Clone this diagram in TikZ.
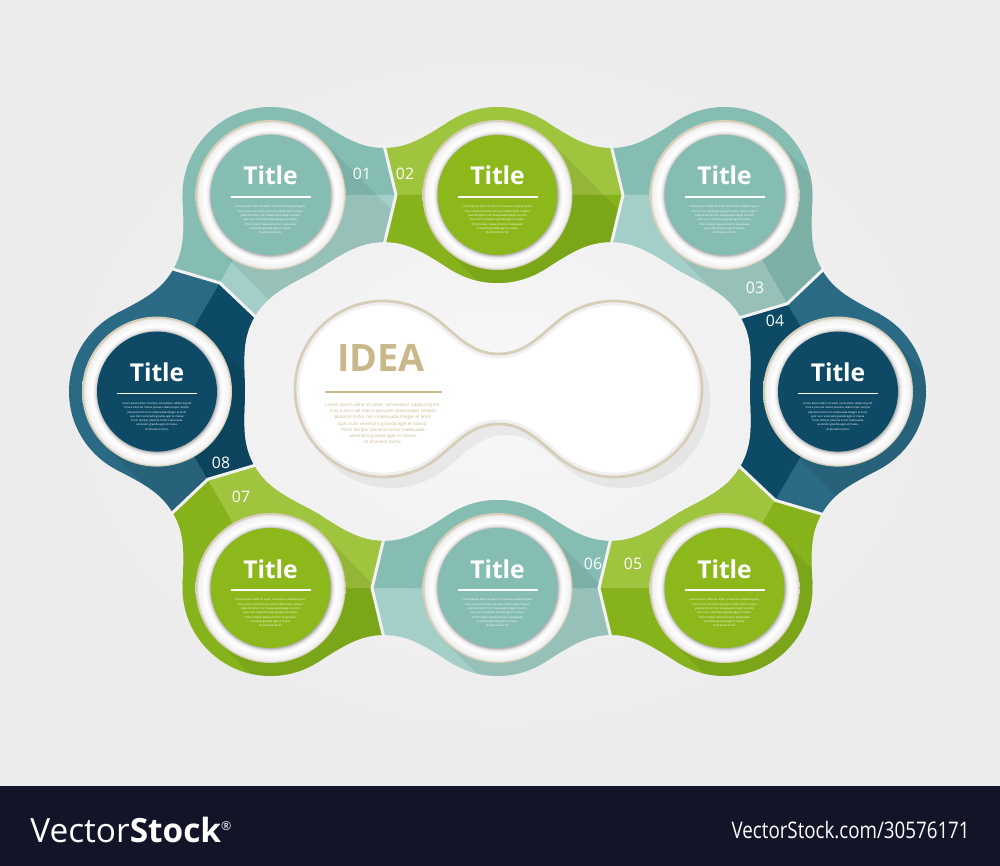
\documentclass[tikz,border=0pt]{standalone}
\usepackage{fontspec}
\setmainfont{Open Sans}
\usetikzlibrary{calc}
\definecolor{tealA}{HTML}{86BDB3}
\definecolor{tealB}{HTML}{A3CFC8}
\definecolor{greenA}{HTML}{9FC43D}
\definecolor{greenB}{HTML}{86B31B}
\definecolor{diskgreen}{HTML}{8CB81B}
\definecolor{blueA}{HTML}{2B6A84}
\definecolor{blueB}{HTML}{0D4A66}
\definecolor{diskblue}{HTML}{0E4A66}
\definecolor{rimcol}{HTML}{D6CEB8}
\definecolor{ideacol}{HTML}{C8B88A}
\definecolor{barcol}{HTML}{131428}
\definecolor{bgcol}{HTML}{F2F2F2}
\pgfdeclareradialshading{ringshade}{\pgfpoint{0bp}{0bp}}{color(0bp)=(black!30); color(20bp)=(black!30); color(20.8bp)=(black!8); color(21.8bp)=(white); color(24.2bp)=(white!94!black); color(24.6bp)=(rimcol); color(25bp)=(rimcol); color(50bp)=(rimcol)}
\newcommand\tipshape{(0,0) -- (46.6,-74.6) .. controls (72,-58.7) and (88.5,-47) .. (113.5,-47) -- (125.5,0) -- (113.5,47) .. controls (88.5,47) and (72,58.7) .. (46.6,74.6) -- cycle}
\newcommand\notchshape{(0,0) -- (-46.6,-74.6) .. controls (-72,-58.7) and (-88.5,-47) .. (-113.5,-47) -- (-101.5,0) -- (-113.5,47) .. controls (-88.5,47) and (-72,58.7) .. (-46.6,74.6) -- cycle}
\newcommand\blobfill[4]{%
  \fill[#4, shift={(#1)}] (0,0) circle (88);
  \fill[#4, shift={(#1)}, rotate=-#2] \tipshape;
  \fill[#4, shift={(#1)}, rotate=-#3] \notchshape;}
\newcommand\ideashape{(439.6,321.6) .. controls (458.7,337.7) and (473.5,354) .. (498.5,354) .. controls (523.5,354) and (538.3,337.7) .. (557.4,321.6) arc[start angle=230, end angle=490, radius=88] .. controls (538.3,440.3) and (523.5,424) .. (498.5,424) .. controls (473.5,424) and (458.7,440.3) .. (439.6,456.4) arc[start angle=50, end angle=310, radius=88] -- cycle}
\newcommand\loremtext{Lorem ipsum dolor sit amet, consectetur adipiscing elit.\\ Cras a risus vel metus posuere ullamcorper tempor\\ placerat tortor non malesuada.Integer et enim\\ quis nunc venenatis gravida eget et massa.\\ Proin tempor placerat tortor malesuada\\ venenatis gravida eget et massa.\\ Ut pharetra tortor.}
\tikzset{
  gapline/.style={draw=bgcol, line width=1.7pt, line join=miter},
  titletext/.style={text=white, font=\fontsize{14}{16}\selectfont\bfseries},
  bodytext/.style={text=white, align=center, inner sep=0pt, font=\fontsize{1.55}{2.45}\selectfont},
  numlabel/.style={text=white, font=\fontsize{9}{10}\selectfont},
}
\begin{document}
\begin{tikzpicture}[x=0.2mm, y=-0.2mm, line join=round]
\useasboundingbox (0,0) rectangle (1000,866);
\shade[inner color=white!97!black, outer color=black!8] (0,0) rectangle (1000,786);
\coordinate (c1) at (270.5,195);
\coordinate (c2) at (497.5,195);
\coordinate (c3) at (724.5,195);
\coordinate (c4) at (838,391.6);
\coordinate (c5) at (724.5,588);
\coordinate (c6) at (497.5,588);
\coordinate (c7) at (270.5,588);
\coordinate (c8) at (157,391.6);
\begin{scope}[transparency group, opacity=0.05, shift={(8,11)}]
  \foreach \pos/\nx/\pv in {c1/0/300, c2/0/0, c3/60/0, c4/120/60, c5/180/120, c6/180/180, c7/240/180, c8/300/240}
    {\blobfill{\pos}{\nx}{\pv}{black}}
  \fill[black] \ideashape;
\end{scope}
\foreach \pos/\nx/\pv/\ea/\outc/\innc in {c1/0/300/120/tealA/tealB, c2/0/0/180/greenA/greenB, c3/60/0/180/tealA/tealB, c4/120/60/240/blueA/blueB, c5/180/120/300/greenB/greenA, c6/180/180/360/tealB/tealA, c7/240/180/360/greenB/greenA, c8/300/240/420/blueA/blueB}
{
  \blobfill{\pos}{\nx}{\pv}{\outc}
  \begin{scope}
    \clip (\pos) -- +(\nx:400) -- +({(\nx+\ea)/2}:600) -- +(\ea:400) -- cycle;
    \blobfill{\pos}{\nx}{\pv}{\innc}
  \end{scope}
  \begin{scope}[transparency group, opacity=0.07]
    \clip[shift={(\pos)}] (-45:75) -- ++(45:400) -- ++(135:150) -- ++(225:400) -- cycle;
    \blobfill{\pos}{\nx}{\pv}{black}
  \end{scope}
}
\foreach \pos/\nx in {c1/0, c2/0, c3/60, c4/120, c5/180, c6/180, c7/240, c8/300}
  \draw[gapline, shift={(\pos)}, rotate=-\nx] (113.5,-50) -- (125.5,0) -- (113.5,50);
\foreach \pos/\dc [count=\k] in {c1/tealA, c2/diskgreen, c3/tealA, c4/diskblue, c5/diskgreen, c6/tealA, c7/diskgreen, c8/diskblue}
{
  \shade[shading=ringshade, shift={(\pos)}] (0,0) circle (75);
  \fill[\dc, shift={(\pos)}] (0,0) circle (60);
  \node[titletext, anchor=base] (title\k) at ($(\pos)+(0,-10)$) {Title};
  \coordinate (ul\k) at ($(\pos)+(-40,2)$);
  \coordinate (ur\k) at ($(\pos)+(40,2)$);
  \draw[white, line width=0.7pt] (ul\k) -- (ur\k);
  \node[bodytext] (body\k) at ($(\pos)+(0,25)$) {\loremtext};
}
\foreach \x/\y/\z in {362/174/01, 405/174/02, 755/288/03, 775/321/04, 633/564/05, 593/564/06, 241/497/07, 221/463/08}
  \node[numlabel] (num\z) at (\x,\y) {\z};
\fill[white] \ideashape;
\begin{scope}
  \clip \ideashape;
  \draw[black!6, line width=5pt] \ideashape;
\end{scope}
\draw[rimcol, line width=1.6pt] \ideashape;
\node[text=ideacol, anchor=base, font=\fontsize{21.5}{24}\selectfont\bfseries] (idea) at (381,372) {IDEA};
\coordinate (il) at (325,392);
\coordinate (ir) at (442,392);
\draw[ideacol, line width=1.3pt] (il) -- (ir);
\node[text=ideacol, align=center, inner sep=0pt, font=\fontsize{2.55}{3.56}\selectfont] (ideabody) at (383,424) {\loremtext};
\fill[barcol] (0,786) rectangle (1000,866);
\node[text=white, anchor=base west, inner sep=0pt, font=\fontsize{19}{22}\selectfont] (brand) at (30,842) {Vector\textbf{Stock}\textsuperscript{\fontsize{7}{7}\selectfont ®}};
\node[text=white, anchor=base east, inner sep=0pt, font=\fontsize{13}{15}\selectfont] (link) at (970,838) {\scalebox{0.82}[1]{VectorStock.com/30576171}};
\end{tikzpicture}
\end{document}
